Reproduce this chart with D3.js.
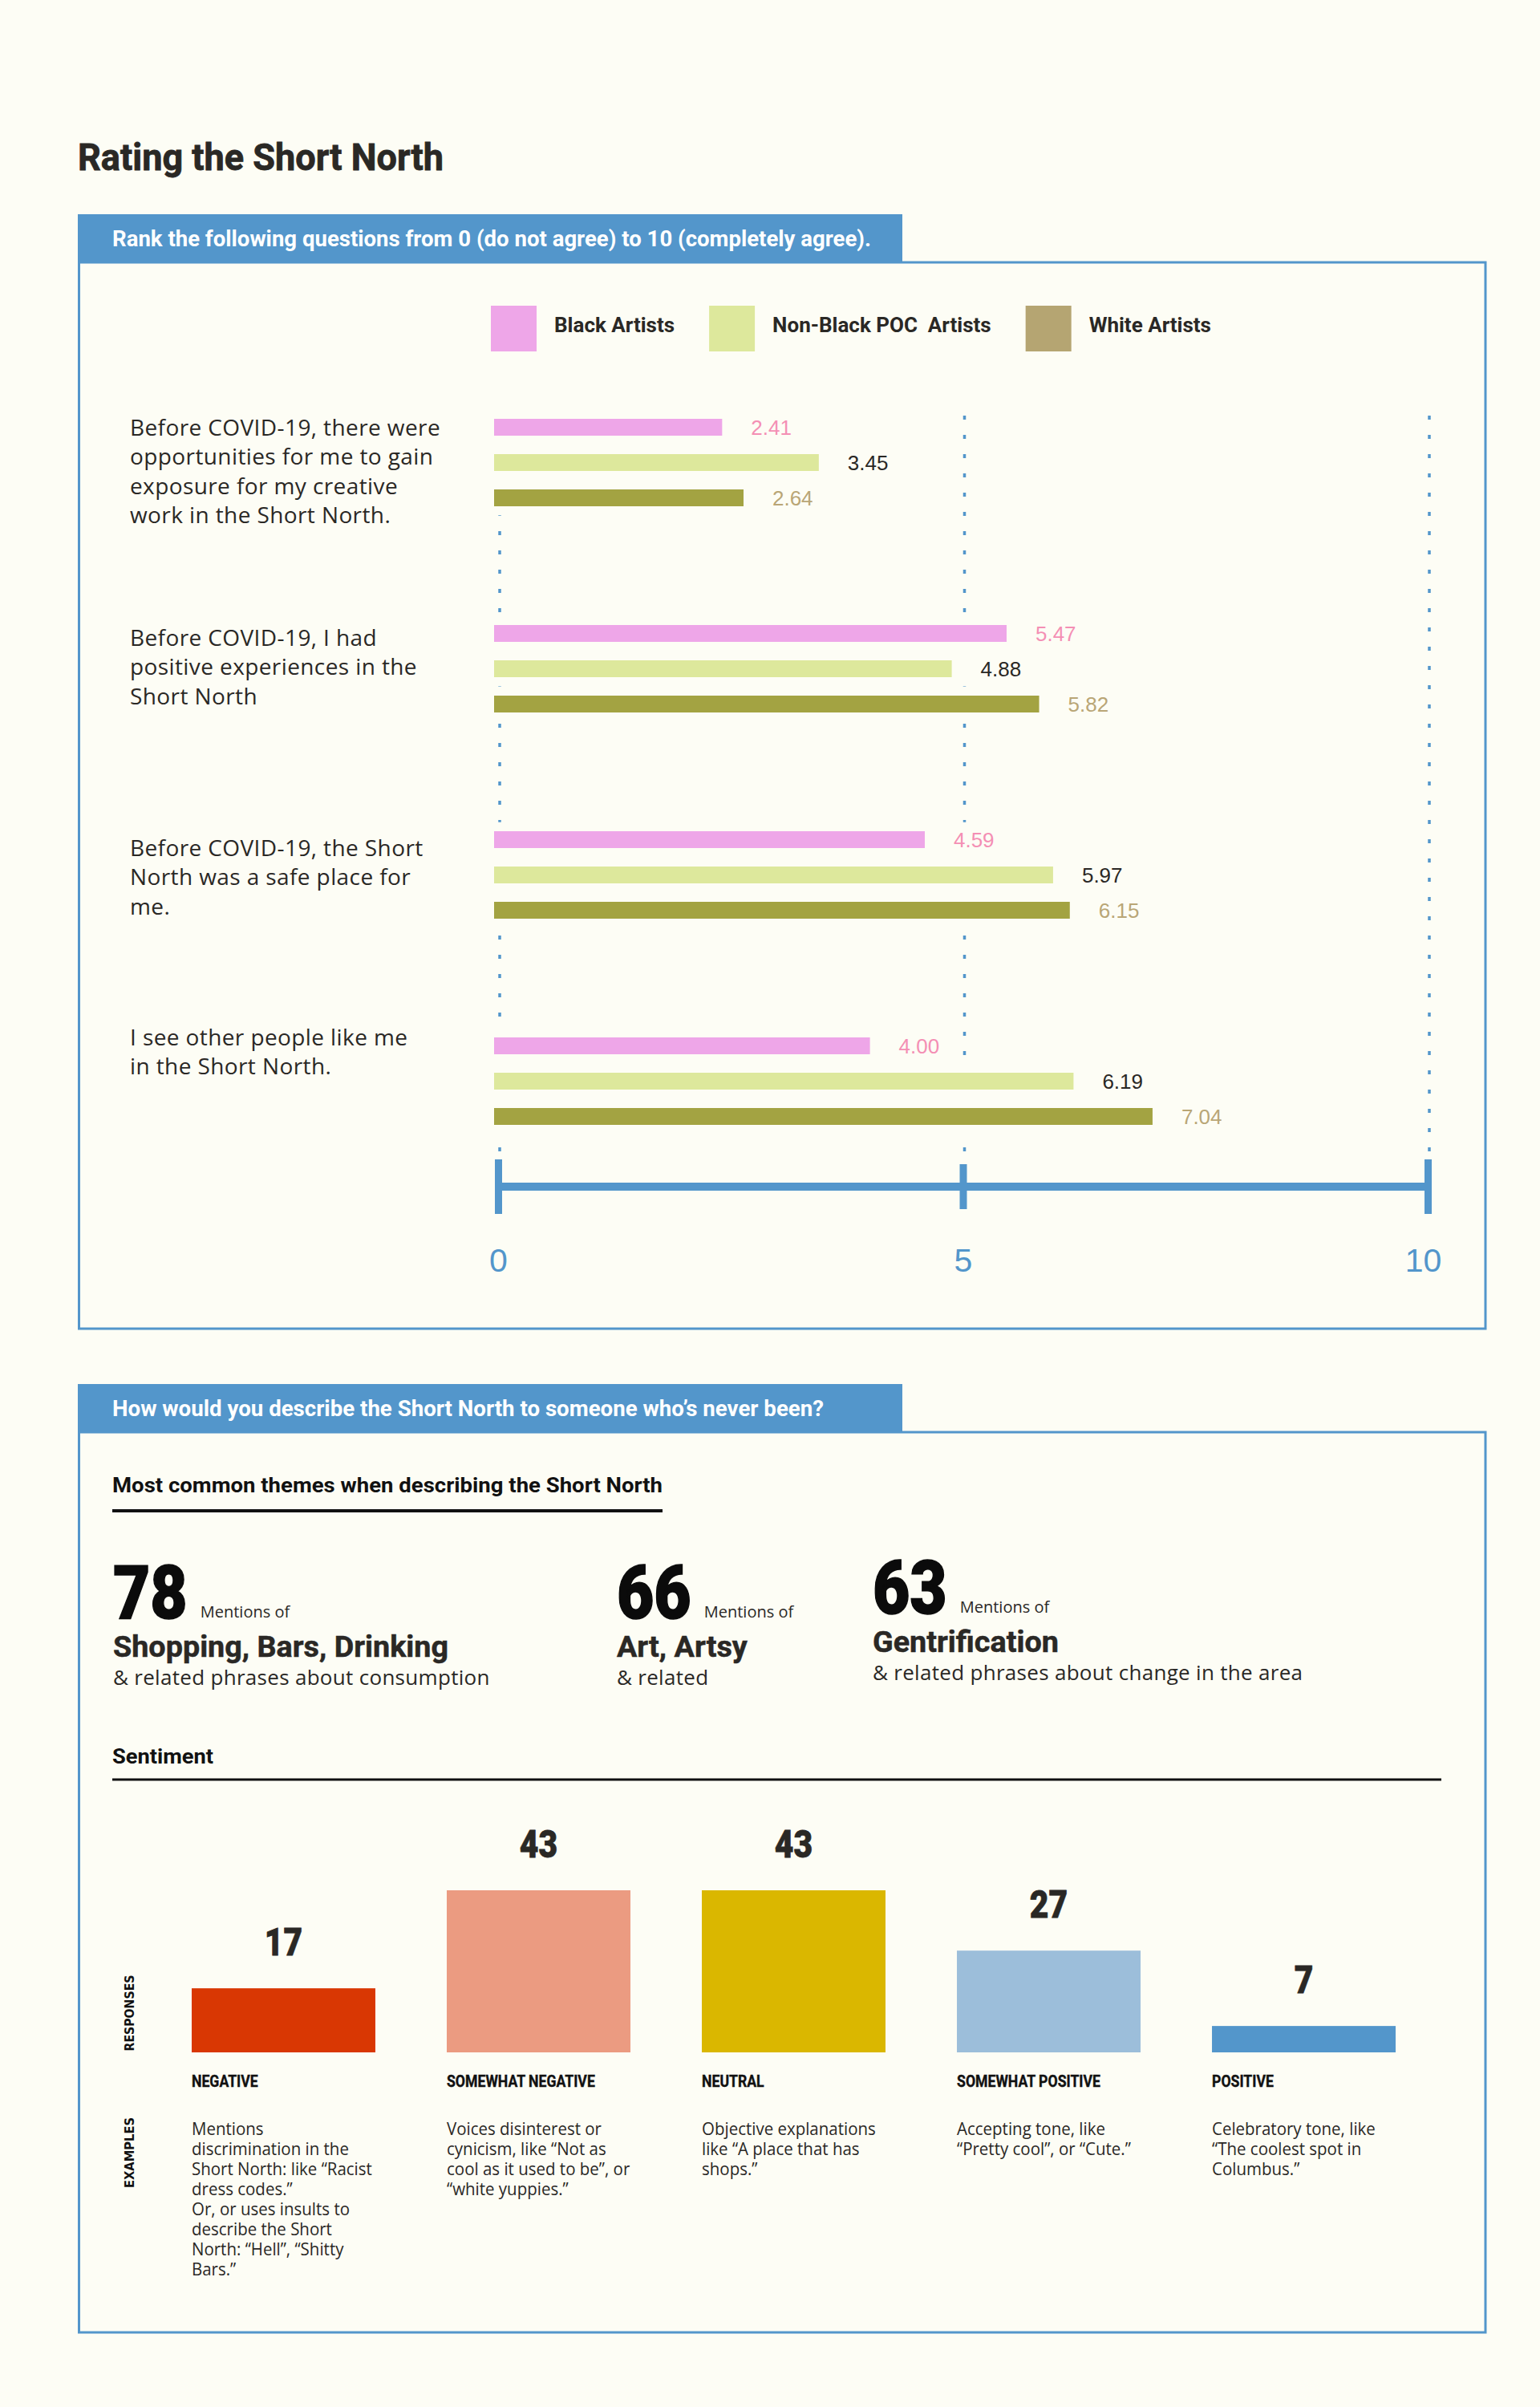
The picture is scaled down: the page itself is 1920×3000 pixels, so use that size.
<!DOCTYPE html>
<html>
<head>
<meta charset="utf-8">
<script src="https://cdn.jsdelivr.net/npm/d3@7"></script>
<style>
  body { margin: 0; background: #FDFDF5; }
  svg { display: block; }
</style>
</head>
<body>
<svg id="chart" width="1920" height="3000"></svg>
<script>
// ---- data ----
const series = ["Black Artists", "Non-Black POC  Artists", "White Artists"]
const questions = [
  ["Before COVID-19, there were", "opportunities for me to gain", "exposure for my creative", "work in the Short North."],
  ["Before COVID-19, I had", "positive experiences in the", "Short North"],
  ["Before COVID-19, the Short", "North was a safe place for", "me."],
  ["I see other people like me", "in the Short North."]
]
const blackScores = [2.41, 5.47, 4.59, 4.00]
const pocScores = [3.45, 4.88, 5.97, 6.19]
const whiteScores = [2.64, 5.82, 6.15, 7.04]
const axisTicks = [0, 5, 10]

const themeCounts = [78, 66, 63]
const themeNames = ["Shopping, Bars, Drinking", "Art, Artsy", "Gentrification"]
const themeNotes = ["& related phrases about consumption", "& related", "& related phrases about change in the area"]

const sentiments = ["NEGATIVE", "SOMEWHAT NEGATIVE", "NEUTRAL", "SOMEWHAT POSITIVE", "POSITIVE"]
const responses = [17, 43, 43, 27, 7]
const examples = [
  ["Mentions", "discrimination in the", "Short North: like \u201cRacist", "dress codes.\u201d", "Or, or uses insults to", "describe the Short", "North: \u201cHell\u201d, \u201cShitty", "Bars.\u201d"],
  ["Voices disinterest or", "cynicism, like \u201cNot as", "cool as it used to be\u201d, or", "\u201cwhite yuppies.\u201d"],
  ["Objective explanations", "like \u201cA place that has", "shops.\u201d"],
  ["Accepting tone, like", "\u201cPretty cool\u201d, or \u201cCute.\u201d"],
  ["Celebratory tone, like", "\u201cThe coolest spot in", "Columbus.\u201d"]
]

// ---- styles ----
const BG = "#FDFDF5", INK = "#2A2825", BLUE = "#5396CB"
const HEAD = "Roboto, 'Liberation Sans', sans-serif"
const BODY = "'Open Sans', 'Noto Sans', sans-serif"
const NUMF = "'Liberation Sans', Arial, sans-serif"
const barColors = ["#EEA6E8", "#DDE89C", "#A3A342"]
const legendColors = ["#EEA6E8", "#DDE89C", "#B5A572"]
const valueColors = ["#F48FB4", "#2A2825", "#B9A676"]
const sentimentColors = ["#D93703", "#EB9B81", "#DAB700", "#9CBEDA", "#5396CB"]

const svg = d3.select("#chart")
svg.append("rect").attr("width", 1920).attr("height", 3000).attr("fill", BG)

// squeeze text horizontally, like the condensed face of the original
function squeeze(sel, k) {
  sel.each(function () {
    const n = this.getComputedTextLength()
    d3.select(this).attr("textLength", n * k).attr("lengthAdjust", "spacingAndGlyphs")
  })
}
function fit(sel, w) {
  sel.attr("textLength", w).attr("lengthAdjust", "spacingAndGlyphs")
}

// title
svg.append("text")
  .attr("x", 97).attr("y", 212)
  .attr("font-family", HEAD).attr("font-weight", 700).attr("font-size", 46)
  .attr("fill", INK)
  .attr("stroke", INK).attr("stroke-width", 0.8)
  .text("Rating the Short North")
  .call(fit, 456)

// panels with their blue tab
function panel(y0, y1, title, tw) {
  svg.append("rect")
    .attr("x", 98.5).attr("y", y0)
    .attr("width", 1852 - 98.5).attr("height", y1 - y0)
    .attr("fill", "none").attr("stroke", BLUE).attr("stroke-width", 3)
  svg.append("rect")
    .attr("x", 97).attr("y", y0 - 60)
    .attr("width", 1028).attr("height", 60)
    .attr("fill", BLUE)
  svg.append("text")
    .attr("x", 140).attr("y", y0 - 20)
    .attr("font-family", HEAD).attr("font-weight", 700).attr("font-size", 27)
    .attr("fill", "#fff")
    .text(title)
    .call(fit, tw)
}
panel(327, 1656, "Rank the following questions from 0 (do not agree) to 10 (completely agree).", 946)
panel(1785, 2907, "How would you describe the Short North to someone who\u2019s never been?", 887)

// legend
const legend = svg.append("g")
let lx = 612
series.forEach((s, i) => {
  legend.append("rect")
    .attr("x", lx).attr("y", 381).attr("width", 57).attr("height", 57)
    .attr("fill", legendColors[i])
  const t = legend.append("text")
    .attr("x", lx + 79).attr("y", 414)
    .attr("font-family", HEAD).attr("font-weight", 700).attr("font-size", 26)
    .attr("fill", INK)
    .style("white-space", "pre")
    .text(s)
    .call(squeeze, 1.0)
  lx += 79 + (+t.attr("textLength")) + 43
})

// ---- rating bars ----
const x = d3.scaleLinear().domain([0, 10]).range([621, 1780])
const gy = d3.scaleBand().domain(d3.range(questions.length)).range([522, 522 + 4 * 257])
const ry = d3.scalePoint().domain(series).range([0, 88])
const scores = [blackScores, pocScores, whiteScores]
const barH = 21
const questionDy = [0, 5, 10, -11]

const rows = []
questions.forEach((q, qi) => {
  series.forEach((s, si) => {
    rows.push({ q: qi, s: si, v: scores[si][qi], y: gy(qi) + ry(s) })
  })
})

// dotted guides
svg.append("g").selectAll("line")
  .data(axisTicks)
  .join("line")
  .attr("x1", d => x(d) + 2).attr("x2", d => x(d) + 2)
  .attr("y1", 518).attr("y2", 1438)
  .attr("stroke", BLUE).attr("stroke-width", 3.5)
  .attr("stroke-dasharray", "5 19")

const masks = svg.append("g")

svg.append("g").selectAll("rect")
  .data(rows)
  .join("rect")
  .attr("x", x(0) - 5)
  .attr("y", d => d.y)
  .attr("width", d => x(d.v) - x(0) + 5)
  .attr("height", barH)
  .attr("fill", d => barColors[d.s])

const vlabels = svg.append("g").selectAll("text")
  .data(rows)
  .join("text")
  .attr("x", d => x(d.v) + 36)
  .attr("y", d => d.y + barH / 2 + 9.5)
  .attr("font-family", NUMF).attr("font-size", 26)
  .attr("fill", d => valueColors[d.s])
  .text(d => d3.format(".2f")(d.v))

// the guides stop where a row (bar + label) crosses them
vlabels.each(function (d) {
  const b = this.getBBox()
  masks.append("rect")
    .attr("x", x(0) - 14)
    .attr("y", d.y + barH / 2 - 21.75)
    .attr("width", b.x + b.width + 4 - (x(0) - 14))
    .attr("height", 43.5)
    .attr("fill", BG)
})

// question labels
svg.append("g").selectAll("text")
  .data(questions)
  .join("text")
  .attr("x", 162)
  .attr("y", (d, i) => gy(i) + barH / 2 + 10 + questionDy[i])
  .attr("font-family", BODY).attr("font-size", 28)
  .attr("letter-spacing", 0.4)
  .attr("fill", INK)
  .selectAll("tspan")
  .data(d => d)
  .join("tspan")
  .attr("x", 162)
  .attr("dy", (d, i) => i ? 36.5 : 0)
  .text(d => d)

// axis
const axY = 1479
const ax = svg.append("g")
  .attr("transform", `translate(0,${axY})`)
  .call(d3.axisBottom(x).tickValues(axisTicks).tickFormat(d3.format("d")).tickSize(0))
ax.select(".domain").remove()
ax.append("line")
  .attr("x1", x(0)).attr("x2", x(10))
  .attr("stroke", BLUE).attr("stroke-width", 10)
ax.selectAll(".tick line")
  .attr("stroke", BLUE).attr("stroke-width", 9)
  .attr("y1", d => d === 5 ? -28 : -34)
  .attr("y2", d => d === 5 ? 28 : 34)
ax.selectAll(".tick text")
  .attr("y", 106).attr("dy", 0)
  .attr("dx", d => d === 10 ? -6 : 0)
  .attr("font-family", NUMF).attr("font-size", 41)
  .attr("fill", BLUE)

// ---- themes ----
svg.append("text")
  .attr("x", 140).attr("y", 1860)
  .attr("font-family", HEAD).attr("font-weight", 700).attr("font-size", 25)
  .attr("fill", "#111")
  .text("Most common themes when describing the Short North")
  .call(fit, 686)
svg.append("line")
  .attr("x1", 140).attr("x2", 826).attr("y1", 1883).attr("y2", 1883)
  .attr("stroke", "#111").attr("stroke-width", 4)

const themeX = [141, 769, 1088]
const themeDy = [0, 0, -6]
themeCounts.forEach((c, i) => {
  const g = svg.append("g").attr("transform", `translate(${themeX[i]},${themeDy[i]})`)
  const num = g.append("text")
    .attr("x", 0).attr("y", 2017)
    .attr("font-family", HEAD).attr("font-weight", 900).attr("font-size", 93)
    .attr("fill", "#0B0B0B")
    .attr("stroke", "#0B0B0B").attr("stroke-width", 1.5)
    .text(c)
    .call(squeeze, 0.86)
  g.append("text")
    .attr("x", +num.attr("textLength") + 16).attr("y", 2016)
    .attr("font-family", BODY).attr("font-size", 20)
    .attr("fill", INK)
    .text("Mentions of")
  g.append("text")
    .attr("x", 0).attr("y", 2065)
    .attr("font-family", HEAD).attr("font-weight", 700).attr("font-size", 37)
    .attr("fill", INK)
    .attr("stroke", INK).attr("stroke-width", 0.5)
    .text(themeNames[i])
    .call(squeeze, 1.02)
  g.append("text")
    .attr("x", 0).attr("y", 2100)
    .attr("font-family", BODY).attr("font-size", 26)
    .attr("letter-spacing", 0.3)
    .attr("fill", INK)
    .text(themeNotes[i])
})

// ---- sentiment ----
svg.append("text")
  .attr("x", 140).attr("y", 2198)
  .attr("font-family", HEAD).attr("font-weight", 700).attr("font-size", 25)
  .attr("fill", "#111")
  .text("Sentiment")
  .call(fit, 126)
svg.append("line")
  .attr("x1", 140).attr("x2", 1797).attr("y1", 2218).attr("y2", 2218)
  .attr("stroke", "#111").attr("stroke-width", 3)

const sx = d3.scaleBand().domain(sentiments).range([239, 1740]).paddingInner(0.28)
const sy = d3.scaleLinear().domain([0, 43]).range([2558, 2356])

svg.append("g").selectAll("rect")
  .data(sentiments)
  .join("rect")
  .attr("x", d => sx(d))
  .attr("y", (d, i) => sy(responses[i]))
  .attr("width", sx.bandwidth())
  .attr("height", (d, i) => sy(0) - sy(responses[i]))
  .attr("fill", (d, i) => sentimentColors[i])

svg.append("g").selectAll("text")
  .data(sentiments)
  .join("text")
  .attr("x", d => sx(d) + sx.bandwidth() / 2)
  .attr("y", (d, i) => sy(responses[i]) - 41)
  .attr("text-anchor", "middle")
  .attr("font-family", HEAD).attr("font-weight", 900).attr("font-size", 48)
  .attr("fill", INK)
  .attr("stroke", INK).attr("stroke-width", 0.8)
  .text((d, i) => responses[i])
  .call(squeeze, 0.85)

svg.append("g").selectAll("text")
  .data(sentiments)
  .join("text")
  .attr("x", d => sx(d))
  .attr("y", 2601)
  .attr("font-family", HEAD).attr("font-weight", 700).attr("font-size", 21)
  .attr("fill", "#111")
  .attr("stroke", "#111").attr("stroke-width", 0.4)
  .text(d => d)
  .call(squeeze, 0.84)

svg.append("text")
  .attr("transform", "translate(167,2509) rotate(-90)")
  .attr("text-anchor", "middle")
  .attr("font-family", "'DejaVu Sans', sans-serif").attr("font-weight", 700).attr("font-size", 15)
  .attr("fill", "#111")
  .text("RESPONSES")
  .call(fit, 95)
svg.append("text")
  .attr("transform", "translate(167,2683) rotate(-90)")
  .attr("text-anchor", "middle")
  .attr("font-family", "'DejaVu Sans', sans-serif").attr("font-weight", 700).attr("font-size", 15)
  .attr("fill", "#111")
  .text("EXAMPLES")
  .call(fit, 88)

// example quotes, condensed to fit under each bar
const exCols = svg.append("g").selectAll("g")
  .data(examples)
  .join("g")
exCols.append("text")
  .attr("x", 0).attr("y", 2661)
  .attr("font-family", BODY).attr("font-size", 21)
  .attr("fill", INK)
  .selectAll("tspan")
  .data(d => d)
  .join("tspan")
  .attr("x", 0)
  .attr("dy", (d, i) => i ? 25 : 0)
  .text(d => d)
let widest = 0
exCols.filter((d, i) => i === 0).selectAll("tspan").each(function () {
  widest = Math.max(widest, this.getComputedTextLength())
})
const exK = (sx.bandwidth() - 4) / widest
exCols.attr("transform", (d, i) => `translate(${sx(sentiments[i])},0) scale(${exK},1)`)
</script>
</body>
</html>
